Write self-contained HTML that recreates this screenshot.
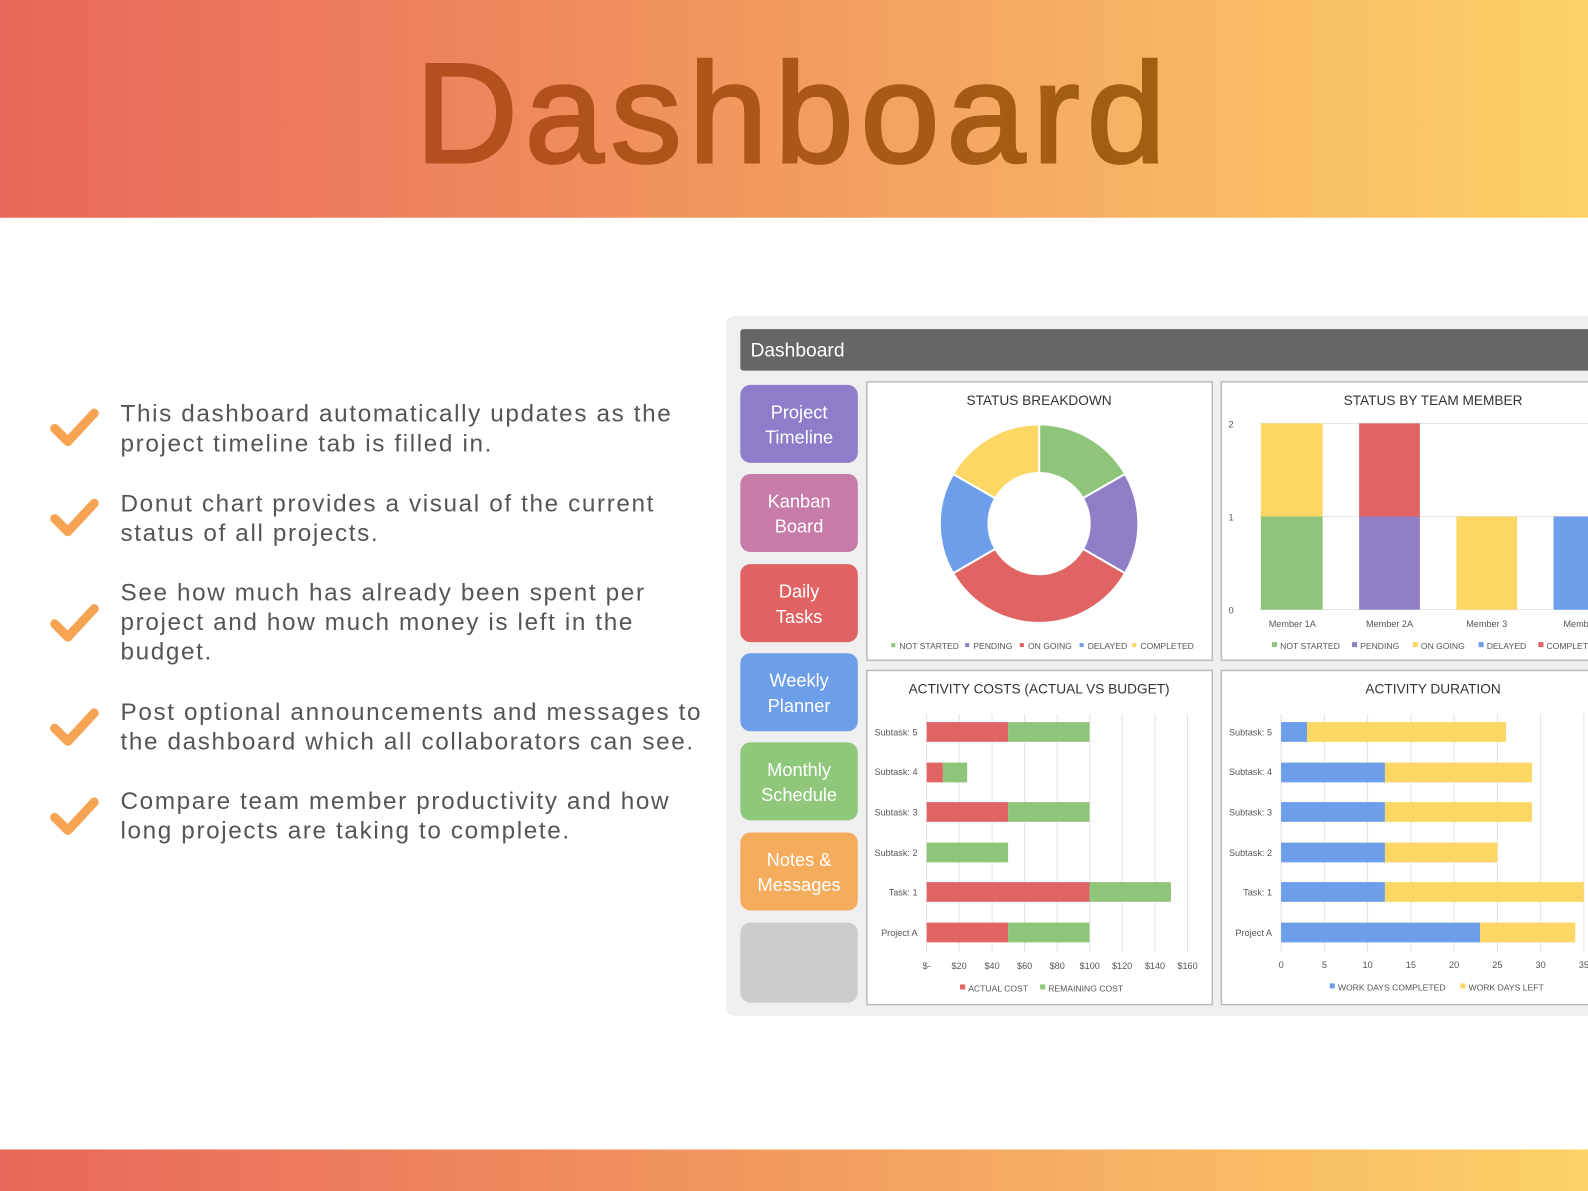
<!DOCTYPE html>
<html><head><meta charset="utf-8"><style>
html,body{margin:0;padding:0;width:1588px;height:1191px;overflow:hidden;background:#fff}
svg{display:block}
</style></head><body>
<svg width="1588" height="1191" viewBox="0 0 1568 1176" xmlns="http://www.w3.org/2000/svg" font-family="Liberation Sans, sans-serif">
<defs>
<linearGradient id="g1" x1="0" x2="1" y1="0" y2="0"><stop offset="0" stop-color="#e8675a"/><stop offset="0.5" stop-color="#f29b5f"/><stop offset="1" stop-color="#fdd267"/></linearGradient>
<linearGradient id="g2" x1="0" x2="1"><stop offset="0" stop-color="#b54e20"/><stop offset="1" stop-color="#a0600f"/></linearGradient>
</defs>
<rect x="0" y="0" width="1568" height="215" fill="url(#g1)"/>
<rect x="0" y="1135" width="1568" height="41" fill="url(#g1)"/>
<text x="784" y="160" text-anchor="middle" font-size="140" letter-spacing="7" fill="url(#g2)" stroke="url(#g2)" stroke-width="3">Dashboard</text>

<g fill="none" stroke="#f6a454" stroke-width="9" stroke-linecap="round" stroke-linejoin="round">
<polyline points="54,423 67,436 93,408"/>
<polyline points="54,512 67,525 93,497"/>
<polyline points="54,616 67,629 93,601"/>
<polyline points="54,719 67,732 93,704"/>
<polyline points="54,807 67,820 93,792"/>
</g>
<g font-size="24" fill="#555" letter-spacing="1.6">
<text x="119" y="416">This dashboard automatically updates as the</text>
<text x="119" y="446">project timeline tab is filled in.</text>
<text x="119" y="505">Donut chart provides a visual of the current</text>
<text x="119" y="534">status of all projects.</text>
<text x="119" y="593">See how much has already been spent per</text>
<text x="119" y="622">project and how much money is left in the</text>
<text x="119" y="651">budget.</text>
<text x="119" y="711">Post optional announcements and messages to</text>
<text x="119" y="740">the dashboard which all collaborators can see.</text>
<text x="119" y="799">Compare team member productivity and how</text>
<text x="119" y="828">long projects are taking to complete.</text>
</g>

<rect x="717" y="312" width="880" height="691" rx="8" fill="#efefef"/>
<rect x="731" y="325" width="860" height="41" rx="3" fill="#666"/>
<text x="741" y="352" font-size="19" fill="#fff">Dashboard</text>

<g font-size="18" fill="#fff" text-anchor="middle">
<rect x="731" y="380" width="116" height="77" rx="10" fill="#8d7dca"/>
<text x="789" y="413">Project</text><text x="789" y="438">Timeline</text>
<rect x="731" y="468" width="116" height="77" rx="10" fill="#c77ba8"/>
<text x="789" y="501">Kanban</text><text x="789" y="526">Board</text>
<rect x="731" y="557" width="116" height="77" rx="10" fill="#e06262"/>
<text x="789" y="590">Daily</text><text x="789" y="615">Tasks</text>
<rect x="731" y="645" width="116" height="77" rx="10" fill="#6c9ee9"/>
<text x="789" y="678">Weekly</text><text x="789" y="703">Planner</text>
<rect x="731" y="733" width="116" height="77" rx="10" fill="#8fc87b"/>
<text x="789" y="766">Monthly</text><text x="789" y="791">Schedule</text>
<rect x="731" y="822" width="116" height="77" rx="10" fill="#f5ad5d"/>
<text x="789" y="855">Notes &amp;</text><text x="789" y="880">Messages</text>
<rect x="731" y="911" width="116" height="79" rx="10" fill="#cccccc"/>
</g>

<g fill="#fff" stroke="#bbb" stroke-width="1.5">
<rect x="856" y="377" width="341" height="275"/>
<rect x="1206" y="377" width="400" height="275"/>
<rect x="856" y="662" width="341" height="330"/>
<rect x="1206" y="662" width="400" height="330"/>
</g>

<text x="1026" y="400" font-size="13.5" fill="#333" text-anchor="middle">STATUS BREAKDOWN</text>
<g stroke="#fff" stroke-width="2">
<path d="M1026,419 A98,98 0 0 1 1110.9,468 L1069.3,492 A50,50 0 0 0 1026,467 Z" fill="#8fc57a"/>
<path d="M1110.9,468 A98,98 0 0 1 1110.9,566 L1069.3,542 A50,50 0 0 0 1069.3,492 Z" fill="#8f7dc6"/>
<path d="M1110.9,566 A98,98 0 0 1 941.1,566 L982.7,542 A50,50 0 0 0 1069.3,542 Z" fill="#e06464"/>
<path d="M941.1,566 A98,98 0 0 1 941.1,468 L982.7,492 A50,50 0 0 0 982.7,542 Z" fill="#6c9ee9"/>
<path d="M941.1,468 A98,98 0 0 1 1026,419 L1026,467 A50,50 0 0 0 982.7,492 Z" fill="#fdd764"/>
</g>
<g font-size="8.5" fill="#555">
<rect x="880" y="635" width="4" height="4" fill="#8fc57a"/><text x="888" y="641">NOT STARTED</text>
<rect x="953" y="635" width="4" height="4" fill="#8f7dc6"/><text x="961" y="641">PENDING</text>
<rect x="1007" y="635" width="4" height="4" fill="#e06464"/><text x="1015" y="641">ON GOING</text>
<rect x="1066" y="635" width="4" height="4" fill="#6c9ee9"/><text x="1074" y="641">DELAYED</text>
<rect x="1118" y="635" width="4" height="4" fill="#fdd764"/><text x="1126" y="641">COMPLETED</text>
</g>

<text x="1415" y="400" font-size="13.5" fill="#333" text-anchor="middle">STATUS BY TEAM MEMBER</text>
<g stroke="#e2e2e2" stroke-width="1"><line x1="1243" y1="418" x2="1568" y2="418"/><line x1="1243" y1="510" x2="1568" y2="510"/><line x1="1243" y1="602" x2="1568" y2="602"/></g>
<g font-size="9" fill="#555"><text x="1213" y="422">2</text><text x="1213" y="514">1</text><text x="1213" y="606">0</text></g>
<rect x="1245" y="510" width="61" height="92" fill="#8fc57a"/>
<rect x="1245" y="418" width="61" height="92" fill="#fdd764"/>
<rect x="1342" y="510" width="60" height="92" fill="#8f7dc6"/>
<rect x="1342" y="418" width="60" height="92" fill="#e06464"/>
<rect x="1438" y="510" width="60" height="92" fill="#fdd764"/>
<rect x="1534" y="510" width="40" height="92" fill="#6c9ee9"/>
<g font-size="9" fill="#555" text-anchor="middle"><text x="1276" y="619">Member 1A</text><text x="1372" y="619">Member 2A</text><text x="1468" y="619">Member 3</text><text x="1564" y="619">Member 4</text></g>
<g font-size="8.5" fill="#555">
<rect x="1256" y="634" width="5" height="5" fill="#8fc57a"/><text x="1264" y="641">NOT STARTED</text>
<rect x="1335" y="634" width="5" height="5" fill="#8f7dc6"/><text x="1343" y="641">PENDING</text>
<rect x="1395" y="634" width="5" height="5" fill="#fdd764"/><text x="1403" y="641">ON GOING</text>
<rect x="1460" y="634" width="5" height="5" fill="#6c9ee9"/><text x="1468" y="641">DELAYED</text>
<rect x="1519" y="634" width="5" height="5" fill="#e06464"/><text x="1527" y="641">COMPLETED</text>
</g>

<text x="1026" y="685" font-size="13.5" fill="#333" text-anchor="middle">ACTIVITY COSTS (ACTUAL VS BUDGET)</text>
<g stroke="#e2e2e2" stroke-width="1">
<line x1="915" y1="705" x2="915" y2="940"/><line x1="947" y1="705" x2="947" y2="940"/><line x1="979.6" y1="705" x2="979.6" y2="940"/><line x1="1011.7" y1="705" x2="1011.7" y2="940"/><line x1="1043.9" y1="705" x2="1043.9" y2="940"/><line x1="1076" y1="705" x2="1076" y2="940"/><line x1="1108" y1="705" x2="1108" y2="940"/><line x1="1140.4" y1="705" x2="1140.4" y2="940"/><line x1="1172.6" y1="705" x2="1172.6" y2="940"/>
</g>
<g>
<rect x="915" y="713" width="80.4" height="19.5" fill="#e06464"/><rect x="995.4" y="713" width="80.4" height="19.5" fill="#8fc57a"/>
<rect x="915" y="753" width="16" height="19.5" fill="#e06464"/><rect x="931" y="753" width="24" height="19.5" fill="#8fc57a"/>
<rect x="915" y="792" width="80.4" height="19.5" fill="#e06464"/><rect x="995.4" y="792" width="80.4" height="19.5" fill="#8fc57a"/>
<rect x="915" y="832" width="80.4" height="19.5" fill="#8fc57a"/>
<rect x="915" y="871" width="160.8" height="19.5" fill="#e06464"/><rect x="1075.8" y="871" width="80.4" height="19.5" fill="#8fc57a"/>
<rect x="915" y="911" width="80.4" height="19.5" fill="#e06464"/><rect x="995.4" y="911" width="80.4" height="19.5" fill="#8fc57a"/>
</g>
<g font-size="9" fill="#555" text-anchor="end">
<text x="906" y="726">Subtask: 5</text><text x="906" y="765">Subtask: 4</text><text x="906" y="805">Subtask: 3</text><text x="906" y="845">Subtask: 2</text><text x="906" y="884">Task: 1</text><text x="906" y="924">Project A</text>
</g>
<g font-size="9" fill="#555" text-anchor="middle">
<text x="915" y="957">$-</text><text x="947" y="957">$20</text><text x="979.6" y="957">$40</text><text x="1011.7" y="957">$60</text><text x="1043.9" y="957">$80</text><text x="1076" y="957">$100</text><text x="1108" y="957">$120</text><text x="1140.4" y="957">$140</text><text x="1172.6" y="957">$160</text>
</g>
<g font-size="8.5" fill="#555">
<rect x="948" y="972" width="5" height="5" fill="#e06464"/><text x="956" y="979">ACTUAL COST</text>
<rect x="1027" y="972" width="5" height="5" fill="#8fc57a"/><text x="1035" y="979">REMAINING COST</text>
</g>

<text x="1415" y="685" font-size="13.5" fill="#333" text-anchor="middle">ACTIVITY DURATION</text>
<g stroke="#e2e2e2" stroke-width="1">
<line x1="1265" y1="705" x2="1265" y2="940"/><line x1="1307.7" y1="705" x2="1307.7" y2="940"/><line x1="1350.4" y1="705" x2="1350.4" y2="940"/><line x1="1393.1" y1="705" x2="1393.1" y2="940"/><line x1="1435.8" y1="705" x2="1435.8" y2="940"/><line x1="1478.5" y1="705" x2="1478.5" y2="940"/><line x1="1521.2" y1="705" x2="1521.2" y2="940"/><line x1="1563.9" y1="705" x2="1563.9" y2="940"/>
</g>
<g>
<rect x="1265" y="713" width="25.6" height="19.5" fill="#6c9ee9"/><rect x="1290.6" y="713" width="196.4" height="19.5" fill="#fdd764"/>
<rect x="1265" y="753" width="102.5" height="19.5" fill="#6c9ee9"/><rect x="1367.5" y="753" width="145.2" height="19.5" fill="#fdd764"/>
<rect x="1265" y="792" width="102.5" height="19.5" fill="#6c9ee9"/><rect x="1367.5" y="792" width="145.2" height="19.5" fill="#fdd764"/>
<rect x="1265" y="832" width="102.5" height="19.5" fill="#6c9ee9"/><rect x="1367.5" y="832" width="111" height="19.5" fill="#fdd764"/>
<rect x="1265" y="871" width="102.5" height="19.5" fill="#6c9ee9"/><rect x="1367.5" y="871" width="196.4" height="19.5" fill="#fdd764"/>
<rect x="1265" y="911" width="196.4" height="19.5" fill="#6c9ee9"/><rect x="1461.4" y="911" width="94" height="19.5" fill="#fdd764"/>
</g>
<g font-size="9" fill="#555" text-anchor="end">
<text x="1256" y="726">Subtask: 5</text><text x="1256" y="765">Subtask: 4</text><text x="1256" y="805">Subtask: 3</text><text x="1256" y="845">Subtask: 2</text><text x="1256" y="884">Task: 1</text><text x="1256" y="924">Project A</text>
</g>
<g font-size="9" fill="#555" text-anchor="middle">
<text x="1265" y="956">0</text><text x="1307.7" y="956">5</text><text x="1350.4" y="956">10</text><text x="1393.1" y="956">15</text><text x="1435.8" y="956">20</text><text x="1478.5" y="956">25</text><text x="1521.2" y="956">30</text><text x="1563.9" y="956">35</text>
</g>
<g font-size="8.5" fill="#555">
<rect x="1313" y="971" width="5" height="5" fill="#6c9ee9"/><text x="1321" y="978">WORK DAYS COMPLETED</text>
<rect x="1442" y="971" width="5" height="5" fill="#fdd764"/><text x="1450" y="978">WORK DAYS LEFT</text>
</g>
</svg>
</body></html>
